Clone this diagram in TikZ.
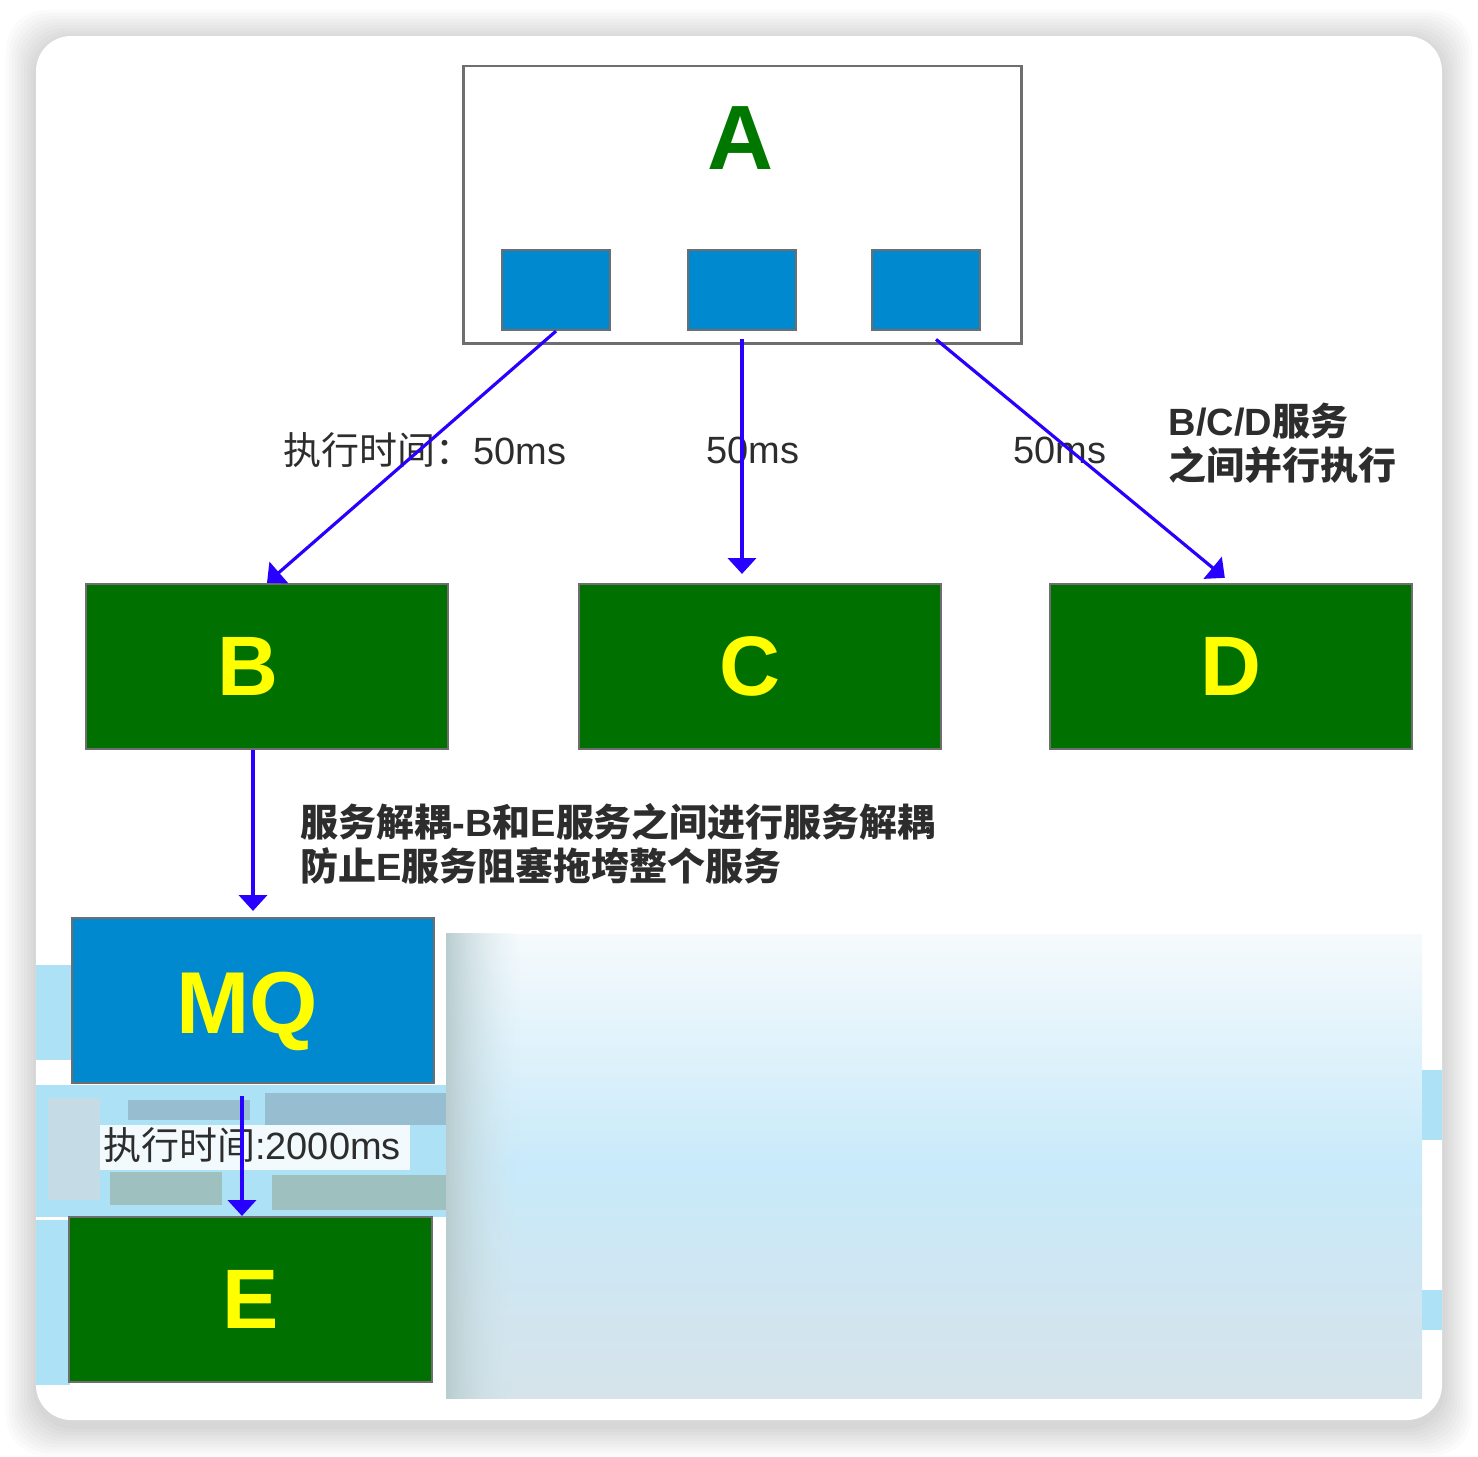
\documentclass[tikz,border=0pt]{standalone}
\usepackage{fontspec}
\setmainfont{Liberation Sans}
\newfontfamily\cjk{Noto Sans CJK SC}
\usetikzlibrary{arrows.meta, fadings}
\definecolor{boxgreen}{RGB}{0,112,0}
\definecolor{titlegreen}{RGB}{0,120,0}
\definecolor{mqblue}{RGB}{0,137,207}
\definecolor{boxgrey}{RGB}{110,110,110}
\definecolor{arrowblue}{RGB}{40,0,255}
\definecolor{svcyellow}{RGB}{255,255,0}
\definecolor{labelgrey}{RGB}{45,45,45}
\definecolor{hazeblue}{RGB}{172,225,246}
\definecolor{hazegrey}{RGB}{150,190,208}
\definecolor{hazeteal}{RGB}{158,192,190}

\begin{document}
\begin{tikzpicture}[
    x=0.01cm, y=-0.01cm,
    every node/.style={inner sep=0pt},
    svc/.style={draw=boxgrey, line width=0.6pt, fill=boxgreen, minimum width=3.62cm, minimum height=1.65cm,
        text=svcyellow, font=\bfseries\fontsize{24}{24}\selectfont},
    slot/.style={draw=boxgrey, line width=0.6pt, fill=mqblue, minimum width=1.08cm, minimum height=0.8cm},
    note/.style={text=labelgrey, font=\fontsize{10.8}{12.4}\selectfont},
    boldnote/.style={text=labelgrey, font=\bfseries\fontsize{10.8}{12.4}\selectfont, align=left, anchor=west},
    arrow/.style={-{Triangle[width=8pt,length=4.5pt]}, line width=0.9pt, arrowblue}
]
    \useasboundingbox (0,0) rectangle (1478,1456);
    \fill[white] (0,0) rectangle (1478,1456);
    \foreach \s in {1,...,10}
        \fill[black, opacity=0.014, rounded corners=0.4cm] (36-\s*3,40-\s*3) rectangle (1442+\s*3,1426+\s*3);
    \fill[white, rounded corners=0.35cm] (36,36) rectangle (1442,1420);

    \shade[top color={rgb,255:red,246;green,250;blue,252}, bottom color={rgb,255:red,214;green,227;blue,234},
        middle color={rgb,255:red,200;green,234;blue,250}] (446,934) rectangle (1422,1398);
    \shade[left color={rgb,255:red,185;green,205;blue,208}, right color={rgb,255:red,215;green,235;blue,242},
        path fading=east] (446,934) rectangle (520,1398);
    \fill[hazeblue] (36,965) rectangle (72,1060);
    \fill[hazeblue] (36,1085) rectangle (446,1217);
    \fill[hazeblue] (36,1220) rectangle (70,1385);
    \fill[hazegrey!55] (48,1098) rectangle (100,1200);
    \fill[hazegrey] (128,1100) rectangle (250,1120);
    \fill[hazegrey] (265,1093) rectangle (446,1125);
    \fill[hazeteal] (110,1172) rectangle (222,1205);
    \fill[hazeteal] (272,1175) rectangle (446,1210);
    \fill[white!85!hazeblue] (100,1125) rectangle (410,1170);
    \fill[hazeblue] (1422,1070) rectangle (1442,1140);
    \fill[hazeblue] (1422,1290) rectangle (1442,1330);

    \node[draw=boxgrey, line width=0.8pt, fill=white, minimum width=5.57cm, minimum height=2.77cm] (a) at (742.5,204.5) {};
    \node[text=titlegreen, font=\bfseries\fontsize{26}{26}\selectfont] (atitle) at (741,138) {A};
    \node[slot] (a1) at (556,290) {};
    \node[slot] (a2) at (742,290) {};
    \node[slot] (a3) at (926,290) {};

    \node[svc] (b) at (267,666.5) {\hspace*{-0.38cm}B};
    \node[svc] (c) at (760,666.5) {\hspace*{-0.2cm}C};
    \node[svc] (d) at (1231,666.5) {D};
    \node[svc, fill=mqblue, font=\bfseries\fontsize{25}{25}\selectfont, text height=0.7cm, text depth=0.05cm] (mq) at (253,1000.5) {\hspace*{-0.12cm}MQ};
    \node[svc] (e) at (250.5,1299.5) {E};

    \node[note] (tb) at (425,450) {{\cjk 执行时间：}50ms};
    \node[note] (tc) at (753,450) {50ms};
    \node[note] (td) at (1060,450) {50ms};
    \node[note] (te) at (252,1145) {{\cjk 执行时间}:2000ms};
    \node[boldnote] (parallel) at (1168,443) {B/C/D{\cjk 服务}\\{\cjk 之间并行执行}};
    \node[boldnote] (decouple) at (300,844) {{\cjk 服务解耦}-B{\cjk 和}E{\cjk 服务之间进行服务解耦}\\{\cjk 防止}E{\cjk 服务阻塞拖垮整个服务}};

    \draw[arrow] (a1.south) -- (b.north);
    \draw[arrow, shorten <=0.08cm, shorten >=0.09cm] (a2.south) -- (a2.south |- c.north);
    \draw[arrow, shorten <=0.13cm, shorten >=0.08cm] (a3.south) -- (d.north);
    \draw[arrow, shorten >=0.06cm] (mq.north |- b.south) -- (mq.north);
    \draw[arrow, shorten <=0.12cm] ([xshift=-0.11cm]mq.south) -- ([xshift=-0.11cm]mq.south |- e.north);
\end{tikzpicture}
\end{document}
